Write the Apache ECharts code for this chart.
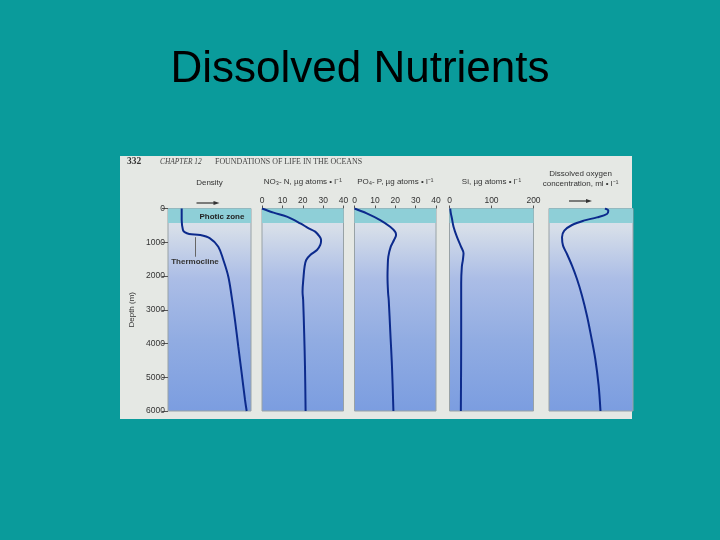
<!DOCTYPE html>
<html><head><meta charset="utf-8">
<script src="https://cdn.jsdelivr.net/npm/echarts@6/dist/echarts.min.js"></script>
<style>html,body{margin:0;padding:0;background:#0a9b9b}#c{width:720px;height:540px}</style>
</head><body><div id="c"></div>
<script>
// ---- data (depth in m) ----
const depthTicks = [0, 1000, 2000, 3000, 4000, 5000, 6000];
const photicZone = [0, 430];

const densityDepth = [0, 341, 637, 700, 756, 785, 884, 1131, 1526, 2020, 2612, 3304, 4094, 4884, 5674, 6000];
const densityValue = [16.5, 16.5, 18.0, 20.0, 25.5, 38.6, 50.6, 60.6, 66.7, 72.7, 76.7, 80.7, 84.7, 88.8, 92.8, 94.8];

const no3Depth = [0, 123, 242, 440, 588, 686, 835, 933, 1081, 1230, 1378, 1526, 1723, 2020, 2464, 2711, 3699, 4687, 6000];
const no3Value = [0, 5.7, 12.2, 18.8, 22.9, 26.1, 28.3, 29.0, 28.6, 27.0, 23.7, 21.7, 20.9, 20.4, 19.9, 20.2, 20.7, 21.1, 21.4];

const po4Depth = [0, 143, 341, 539, 686, 785, 933, 1131, 1427, 1723, 2020, 2513, 2711, 3699, 4687, 6000];
const po4Value = [0, 6.0, 12.6, 17.5, 19.9, 20.4, 19.4, 17.8, 16.6, 16.3, 16.2, 16.5, 16.8, 17.6, 18.4, 19.1];

const siDepth = [0, 143, 291, 539, 835, 1131, 1329, 1526, 1723, 2217, 2711, 3699, 4687, 6000];
const siValue = [1.7, 3.2, 5.7, 9.6, 17.5, 27.4, 33.4, 31.8, 29.4, 27.8, 27.8, 27.8, 27.6, 27.0];

const o2Depth = [0, 64, 163, 262, 360, 489, 656, 854, 1101, 1348, 1693, 2089, 2583, 3176, 3768, 4459, 5249, 6000];
const o2Value = [66.6, 70.6, 69.0, 57.1, 41.2, 27.4, 18.2, 15.5, 16.7, 21.4, 27.4, 33.3, 39.3, 45.2, 50.0, 55.1, 59.1, 61.3];

const no3Ticks = [0, 10, 20, 30, 40];
const siTicks = [0, 100, 200];

const thermoclineLeader = [[32.5, 850], [32.5, 1430]];
const thermoclineLabel = [32.5, 1590];
const photicLabel = [65, 245];

// ---- build chart ----
const pairs = (xs, ds) => xs.map((v, i) => [v, ds[i]]);
const curveColor = '#0c2a8c';
const grids = [
  {left: 168, width: 83},
  {left: 262, width: 81.5},
  {left: 354.5, width: 81.5},
  {left: 449.5, width: 84},
  {left: 549, width: 84}
].map(g => ({
  left: g.left, width: g.width, top: 208.5, height: 202.5, show: true,
  borderColor: '#98a2a6', borderWidth: 1,
  backgroundColor: new echarts.graphic.LinearGradient(0, 0, 0, 1, [
    {offset: 0, color: '#dde4ea'},
    {offset: 0.1, color: '#d6dee9'},
    {offset: 0.35, color: '#abbde6'},
    {offset: 0.65, color: '#91ace2'},
    {offset: 1, color: '#7b9de0'}
  ])
}));

const lbl = {fontFamily: 'Liberation Sans', fontSize: 8.5, color: '#333'};
function xAx(i, min, max, interval, name, showLabels, extra) {
  return Object.assign({
    gridIndex: i, type: 'value', position: 'top', min: min, max: max, interval: interval,
    axisLine: {show: false}, splitLine: {show: false},
    axisTick: {show: showLabels, length: 3, lineStyle: {color: '#555'}},
    axisLabel: Object.assign({show: showLabels, margin: 3}, lbl),
    name: name, nameLocation: 'middle', nameGap: 22,
    nameTextStyle: Object.assign({}, lbl, {fontSize: 8, lineHeight: 10})
  }, extra || {});
}
function yAx(i, show) {
  return {
    gridIndex: i, type: 'value', inverse: true,
    min: depthTicks[0], max: depthTicks[depthTicks.length - 1], interval: 1000,
    axisLine: {show: false}, splitLine: {show: false},
    axisTick: {show: show, length: 6, lineStyle: {color: '#555'}},
    axisLabel: Object.assign({show: show, margin: 3, formatter: v => String(v)}, lbl),
    name: show ? 'Depth (m)' : '', nameLocation: 'middle', nameGap: 32,
    nameTextStyle: Object.assign({}, lbl, {fontSize: 8})
  };
}
function curve(i, data, extra) {
  return Object.assign({
    type: 'line', xAxisIndex: i, yAxisIndex: i, data: data,
    smooth: 0.35, symbol: 'none', z: 5,
    lineStyle: {color: curveColor, width: 2},
    markArea: {silent: true, itemStyle: {color: '#8ecfd7'},
      data: [[{yAxis: photicZone[0]}, {yAxis: photicZone[1]}]]}
  }, extra || {});
}

function arrow(cx, y) {
  return {type: 'group', children: [
    {type: 'line', shape: {x1: cx - 11, y1: y, x2: cx + 8, y2: y}, style: {stroke: '#333', lineWidth: 1.2}},
    {type: 'polygon', shape: {points: [[cx + 12, y], [cx + 6, y - 2], [cx + 6, y + 2]]}, style: {fill: '#333'}}
  ]};
}

const chart = echarts.init(document.getElementById('c'), null, {renderer: 'canvas'});
chart.setOption({
  backgroundColor: '#0a9b9b',
  animation: false,
  title: {text: 'Dissolved Nutrients', left: 'center', top: 48, padding: 0,
    textStyle: {fontFamily: 'Liberation Sans', fontSize: 44, fontWeight: 'normal', color: '#000'}},
  graphic: [
    {type: 'rect', z: -10, shape: {x: 120, y: 156, width: 512, height: 263}, style: {fill: '#e5e8e4'}},
    {type: 'text', z: 10, style: {x: 127, y: 162, text: '332', fill: '#333', font: 'bold 9.5px "Liberation Serif"', textVerticalAlign: 'middle'}},
    {type: 'text', z: 10, style: {x: 160, y: 162, text: 'CHAPTER 12', fill: '#444', font: 'italic 7.4px "Liberation Serif"', textVerticalAlign: 'middle'}},
    {type: 'text', z: 10, style: {x: 215, y: 162, text: 'FOUNDATIONS OF LIFE IN THE OCEANS', fill: '#444', font: '7.9px "Liberation Serif"', textVerticalAlign: 'middle'}},
    Object.assign(arrow(207.5, 203), {z: 10}),
    Object.assign(arrow(580, 201), {z: 10})
  ],
  grid: grids,
  xAxis: [
    xAx(0, 0, 100, 50, 'Density', false, {nameGap: 21}),
    xAx(1, no3Ticks[0], no3Ticks[no3Ticks.length - 1], 10, 'NO₃- N, µg atoms • l⁻¹', true),
    xAx(2, no3Ticks[0], no3Ticks[no3Ticks.length - 1], 10, 'PO₄- P, µg atoms • l⁻¹', true),
    xAx(3, siTicks[0], siTicks[siTicks.length - 1], 100, 'Si, µg atoms • l⁻¹', true),
    xAx(4, 0, 100, 50, 'Dissolved oxygen\nconcentration, ml • l⁻¹', false,
      {nameGap: 20, nameTextStyle: Object.assign({}, lbl, {fontSize: 8, lineHeight: 10, padding: [0, 21, 0, 0]})})
  ],
  yAxis: [yAx(0, true), yAx(1, false), yAx(2, false), yAx(3, false), yAx(4, false)],
  series: [
    curve(0, pairs(densityValue, densityDepth), {
      markPoint: {silent: true, symbol: 'circle', symbolSize: 0,
        data: [
          {coord: photicLabel, label: {show: true, position: 'inside', formatter: 'Photic zone', fontFamily: 'Liberation Sans', fontSize: 8, fontWeight: 'bold', color: '#222'}},
          {coord: thermoclineLabel, label: {show: true, position: 'inside', formatter: 'Thermocline', fontFamily: 'Liberation Sans', fontSize: 8, fontWeight: 'bold', color: '#333'}}
        ]},
      markLine: {silent: true, symbol: 'none', label: {show: false},
        lineStyle: {color: '#666', width: 1, type: 'solid'},
        data: [[{coord: thermoclineLeader[0]}, {coord: thermoclineLeader[1]}]]}
    }),
    curve(1, pairs(no3Value, no3Depth)),
    curve(2, pairs(po4Value, po4Depth)),
    curve(3, pairs(siValue, siDepth)),
    curve(4, pairs(o2Value, o2Depth))
  ]
});
</script></body></html>
